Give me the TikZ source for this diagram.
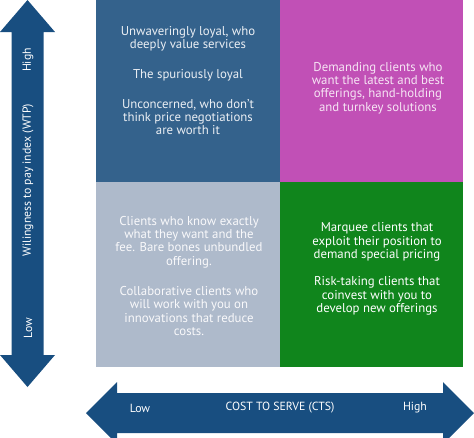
\documentclass[tikz,border=0pt]{standalone}
\usepackage{fontspec}
\setmainfont{PT Sans}
\definecolor{hiwtp}{RGB}{52,98,140}
\definecolor{demand}{RGB}{193,80,182}
\definecolor{lowcts}{RGB}{174,186,203}
\definecolor{marquee}{RGB}{16,133,28}
\definecolor{axisblue}{RGB}{24,78,128}
\tikzset{
  quad/.style={inner sep=0pt,outer sep=0pt},
  qtext/.style={align=center,font=\fontsize{12.8}{13.4}\selectfont,text=white},
  axtext/.style={font=\fontsize{11.8}{13}\selectfont,text=white}
}
\begin{document}
\begin{tikzpicture}[x=1pt,y=-1pt]
\useasboundingbox (0,0) rectangle (474,437);
\clip (0,0) rectangle (474,437);
\node[quad,fill=hiwtp,minimum width=184pt,minimum height=182pt] (tl) at (188,91) {};
\node[quad,fill=demand,minimum width=183pt,minimum height=182pt] (tr) at (371.5,91) {};
\node[quad,fill=lowcts,minimum width=184pt,minimum height=185pt] (bl) at (188,274.5) {};
\node[quad,fill=marquee,minimum width=183pt,minimum height=185pt] (br) at (371.5,274.5) {};
\node[qtext,text=white!90!hiwtp] (tl1) at (188,38.5) {Unwaveringly loyal, who\\deeply value services};
\node[qtext,text=white!90!hiwtp] (tl2) at (188,75) {The spuriously loyal};
\node[qtext,text=white!90!hiwtp] (tl3) at (188,117) {Unconcerned, who don't\\think price negotiations\\are worth it};
\node[qtext,text=white!85!demand] (tr1) at (378,88) {Demanding clients who\\want the latest and best\\offerings, hand-holding\\and turnkey solutions};
\node[qtext,text=white!92!lowcts] (bl1) at (189,242) {Clients who know exactly\\what they want and the\\fee. Bare bones unbundled\\offering.};
\node[qtext,text=white!92!lowcts] (bl2) at (189,311) {Collaborative clients who\\will work with you on\\innovations that reduce\\costs.};
\node[qtext] (br1) at (377,242) {Marquee clients that\\exploit their position to\\demand special pricing};
\node[qtext] (br2) at (377,296) {Risk-taking clients that\\coinvest with you to\\develop new offerings};
\fill[axisblue] (27.5,0) -- (55,32) -- (43.5,32) -- (43.5,355) -- (55,355) -- (27.5,387)
  -- (0,355) -- (11.5,355) -- (11.5,32) -- (0,32) -- cycle;
\fill[axisblue] (86,413) -- (117,382) -- (117,393) -- (443,393) -- (443,382) -- (474,413)
  -- (443,444) -- (443,433) -- (117,433) -- (117,444) -- cycle;
\node[axtext,rotate=90] (whi) at (28,60) {High};
\node[axtext,rotate=90] (wtp) at (28,180) {Wilingness to pay index (WTP)};
\node[axtext,rotate=90] (wlo) at (28,328) {Low};
\node[axtext] (clo) at (140,408) {Low};
\node[axtext] (cts) at (280,408) {COST TO SERVE (CTS)};
\node[axtext] (chi) at (415,408) {High};
\end{tikzpicture}
\end{document}
